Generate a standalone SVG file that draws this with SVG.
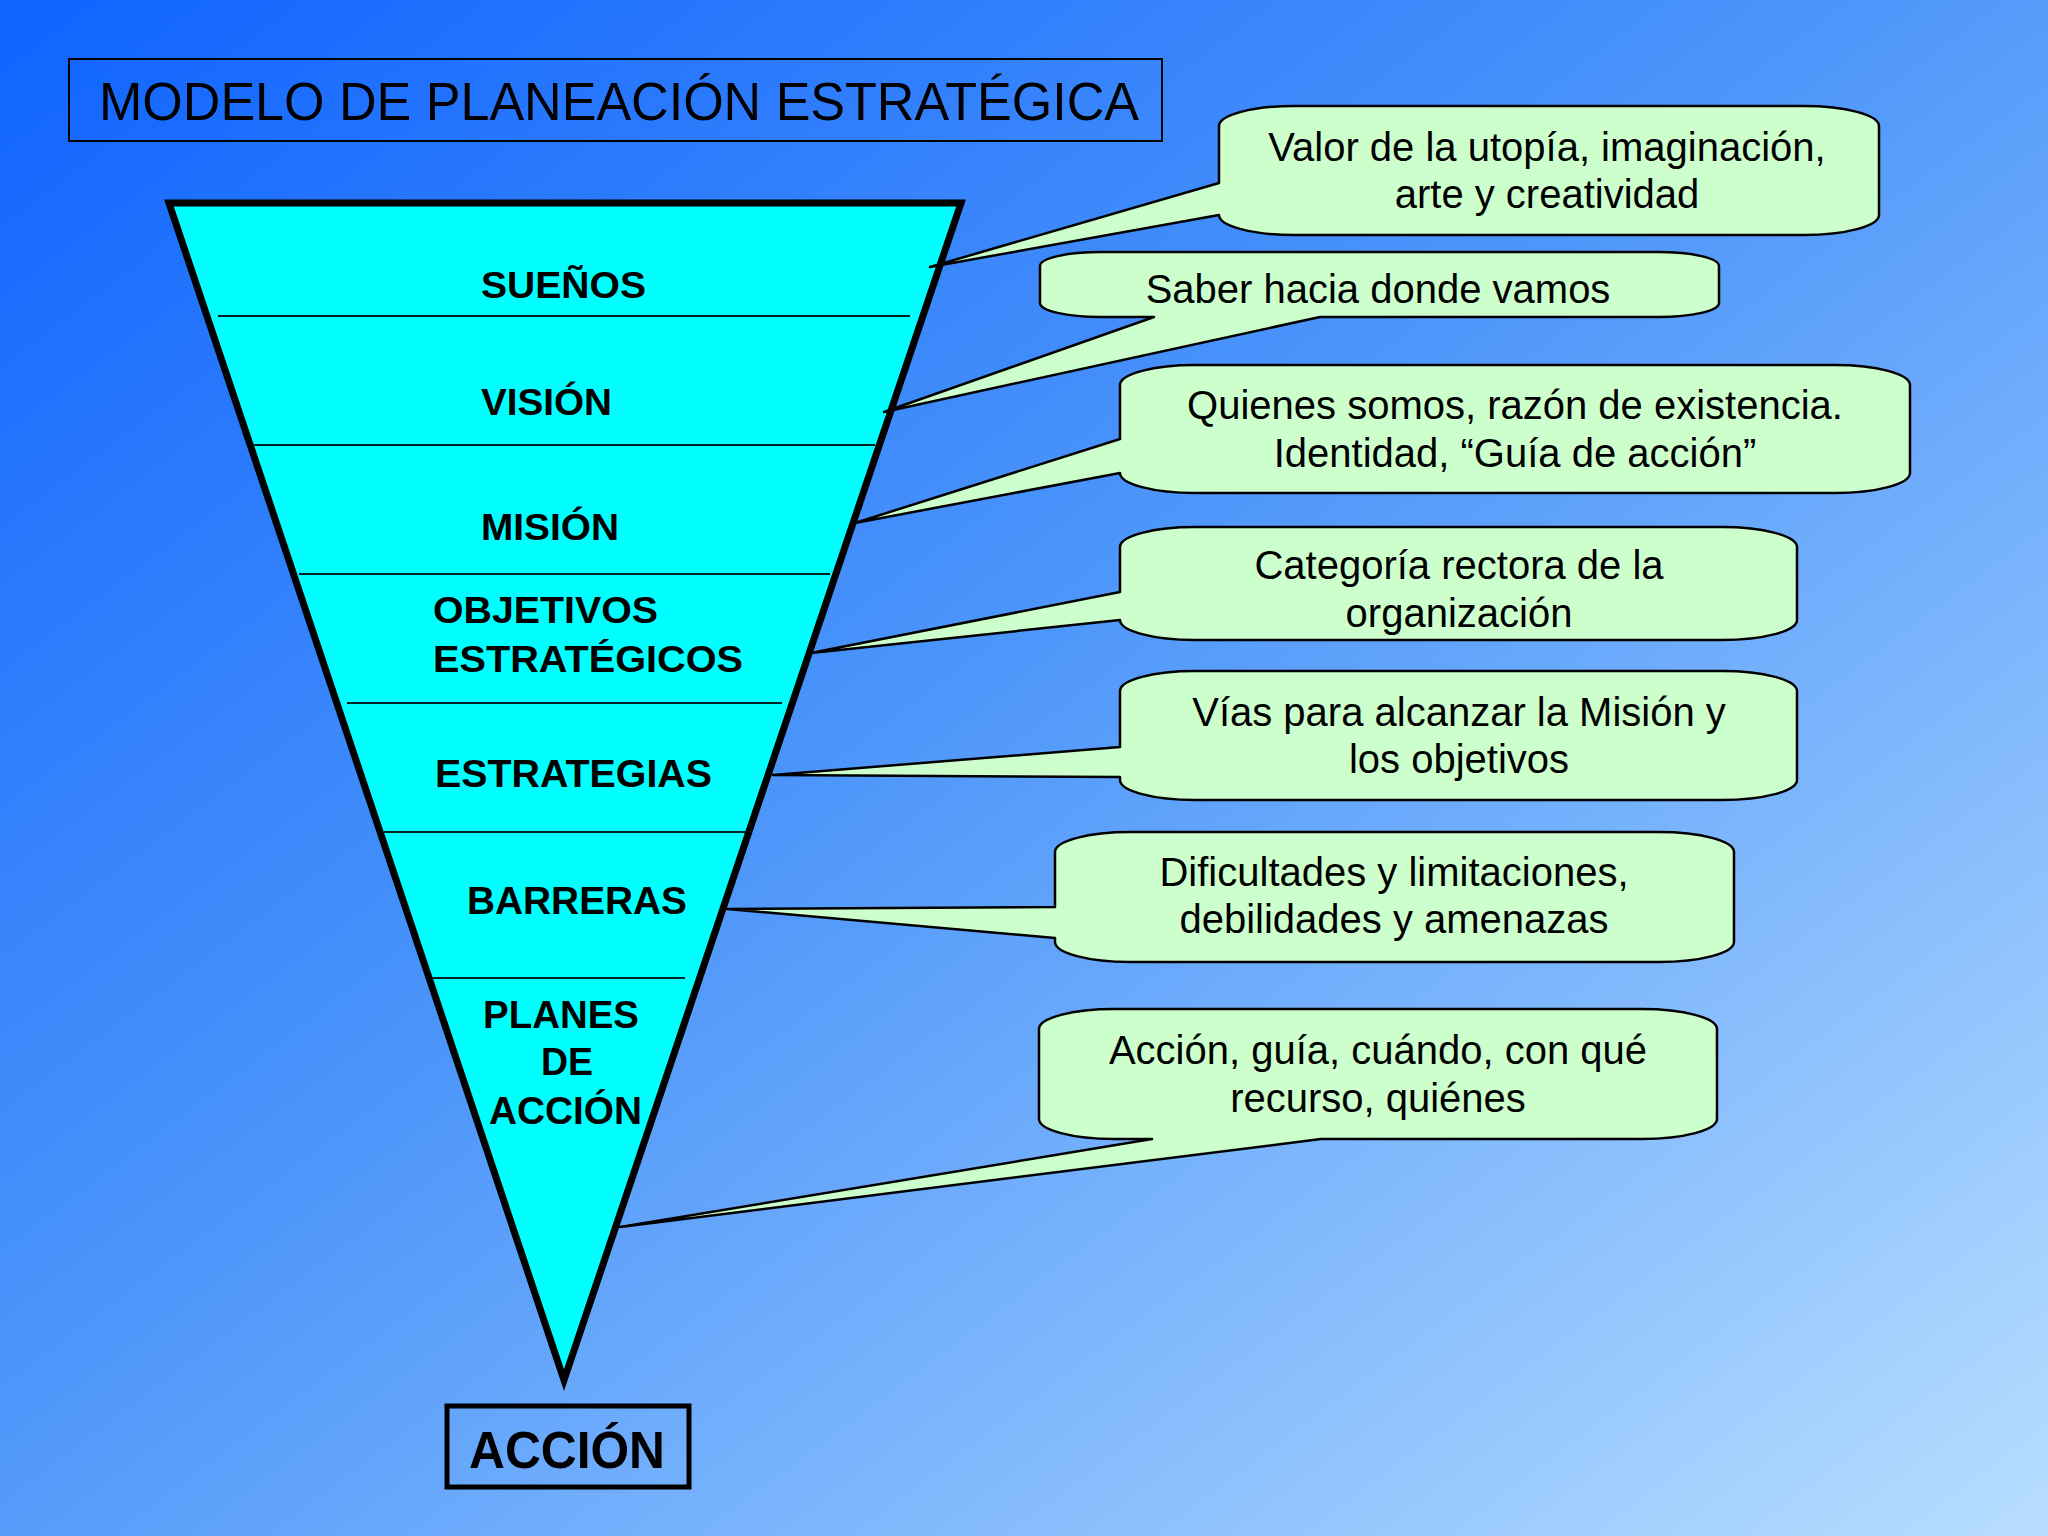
<svg xmlns="http://www.w3.org/2000/svg" width="2048" height="1536" viewBox="0 0 2048 1536">
<defs>
<linearGradient id="bg" x1="0" y1="0" x2="1" y2="1">
<stop offset="0" stop-color="#0F63FF"/>
<stop offset="0.45" stop-color="#4C95FA"/>
<stop offset="1" stop-color="#B8DEFF"/>
</linearGradient>
<style>
.callout{fill:#CCFFCC;stroke:#000;stroke-width:2.5;stroke-linejoin:round}
.ct{font-family:"Liberation Sans",Arial,sans-serif;font-size:40px;fill:#000;text-anchor:middle}
.lbl{font-family:"Liberation Sans",Arial,sans-serif;font-weight:bold;fill:#000}
.div{stroke:#002222;stroke-width:2}
</style>
</defs>
<rect width="2048" height="1536" fill="url(#bg)"/>

<g id="title">
<rect x="69" y="59" width="1093" height="82" fill="none" stroke="#000" stroke-width="2"/>
<text x="99" y="120" font-family="'Liberation Sans',Arial,sans-serif" font-size="54" textLength="1040" lengthAdjust="spacingAndGlyphs" fill="#000">MODELO DE PLANEACIÓN ESTRATÉGICA</text>
</g>

<g id="funnel">
<polygon points="169,203 961,203 564,1380" fill="#00FFFF" stroke="#000" stroke-width="7" stroke-linejoin="miter"/>
<line class="div" x1="218" y1="316" x2="910" y2="316"/>
<line class="div" x1="253" y1="445" x2="875" y2="445"/>
<line class="div" x1="299" y1="574" x2="830" y2="574"/>
<line class="div" x1="347" y1="703" x2="782" y2="703"/>
<line class="div" x1="383" y1="832" x2="745" y2="832"/>
<line class="div" x1="432" y1="978" x2="685" y2="978"/>
</g>

<g id="node-suenos"><text class="lbl" x="481" y="298" font-size="37" textLength="165" lengthAdjust="spacingAndGlyphs">SUEÑOS</text></g>
<g id="node-vision"><text class="lbl" x="481" y="415" font-size="37" textLength="131" lengthAdjust="spacingAndGlyphs">VISIÓN</text></g>
<g id="node-mision"><text class="lbl" x="481" y="540" font-size="37" textLength="138" lengthAdjust="spacingAndGlyphs">MISIÓN</text></g>
<g id="node-objetivos">
<text class="lbl" x="433" y="623" font-size="37" textLength="225" lengthAdjust="spacingAndGlyphs">OBJETIVOS</text>
<text class="lbl" x="433" y="672" font-size="37" textLength="310" lengthAdjust="spacingAndGlyphs">ESTRATÉGICOS</text>
</g>
<g id="node-estrategias"><text class="lbl" x="435" y="787" font-size="39" textLength="277" lengthAdjust="spacingAndGlyphs">ESTRATEGIAS</text></g>
<g id="node-barreras"><text class="lbl" x="467" y="914" font-size="39" textLength="220" lengthAdjust="spacingAndGlyphs">BARRERAS</text></g>
<g id="node-planes">
<text class="lbl" x="483" y="1028" font-size="39" textLength="156" lengthAdjust="spacingAndGlyphs">PLANES</text>
<text class="lbl" x="541" y="1075" font-size="39" textLength="52" lengthAdjust="spacingAndGlyphs">DE</text>
<text class="lbl" x="489" y="1124" font-size="39" textLength="153" lengthAdjust="spacingAndGlyphs">ACCIÓN</text>
</g>

<g id="node-accion">
<rect x="447" y="1406" width="242" height="81" fill="none" stroke="#000" stroke-width="5"/>
<text class="lbl" x="469" y="1468" font-size="51" textLength="196" lengthAdjust="spacingAndGlyphs">ACCIÓN</text>
</g>

<g id="connectors">
<path class="callout" d="M1294,106 H1804 A75,20 0 0 1 1879,126 V215 A75,20 0 0 1 1804,235 H1294 A75,20 0 0 1 1219,215 L930,267 L1219,183 V126 A75,20 0 0 1 1294,106 Z"/>
<path class="callout" d="M1100,252 H1659 A60,14 0 0 1 1719,266 V303 A60,14 0 0 1 1659,317 H1320 L884,412 L1154,317 H1100 A60,14 0 0 1 1040,303 V266 A60,14 0 0 1 1100,252 Z"/>
<path class="callout" d="M1195,365 H1835 A75,20 0 0 1 1910,385 V473 A75,20 0 0 1 1835,493 H1195 A75,20 0 0 1 1120,473 L855,523 L1120,439 V385 A75,20 0 0 1 1195,365 Z"/>
<path class="callout" d="M1195,527 H1722 A75,20 0 0 1 1797,547 V620 A75,20 0 0 1 1722,640 H1195 A75,20 0 0 1 1120,620 L811,653 L1120,592 V547 A75,20 0 0 1 1195,527 Z"/>
<path class="callout" d="M1195,671 H1722 A75,20 0 0 1 1797,691 V780 A75,20 0 0 1 1722,800 H1195 A75,20 0 0 1 1120,780 V777 L773,775 L1120,747 V691 A75,20 0 0 1 1195,671 Z"/>
<path class="callout" d="M1130,832 H1659 A75,20 0 0 1 1734,852 V942 A75,20 0 0 1 1659,962 H1130 A75,20 0 0 1 1055,942 V938 L727,909 L1055,907 V852 A75,20 0 0 1 1130,832 Z"/>
<path class="callout" d="M1114,1009 H1642 A75,20 0 0 1 1717,1029 V1119 A75,20 0 0 1 1642,1139 H1321 L620,1227 L1152,1139 H1114 A75,20 0 0 1 1039,1119 V1029 A75,20 0 0 1 1114,1009 Z"/>
</g>

<g id="note-suenos">
<text class="ct" x="1547" y="161">Valor de la utopía, imaginación,</text>
<text class="ct" x="1547" y="208">arte y creatividad</text>
</g>
<g id="note-vision"><text class="ct" x="1378" y="303">Saber hacia donde vamos</text></g>
<g id="note-mision">
<text class="ct" x="1515" y="419">Quienes somos, razón de existencia.</text>
<text class="ct" x="1515" y="467">Identidad, “Guía de acción”</text>
</g>
<g id="note-objetivos">
<text class="ct" x="1459" y="579">Categoría rectora de la</text>
<text class="ct" x="1459" y="627">organización</text>
</g>
<g id="note-estrategias">
<text class="ct" x="1459" y="726">Vías para alcanzar la Misión y</text>
<text class="ct" x="1459" y="773">los objetivos</text>
</g>
<g id="note-barreras">
<text class="ct" x="1394" y="886">Dificultades y limitaciones,</text>
<text class="ct" x="1394" y="933">debilidades y amenazas</text>
</g>
<g id="note-planes">
<text class="ct" x="1378" y="1064">Acción, guía, cuándo, con qué</text>
<text class="ct" x="1378" y="1112">recurso, quiénes</text>
</g>
</svg>
